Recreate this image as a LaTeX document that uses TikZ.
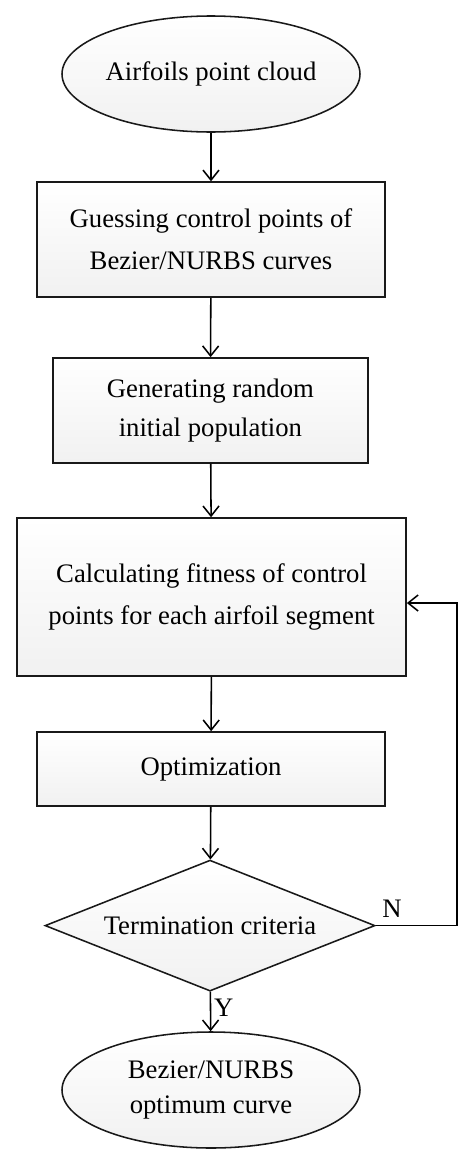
\documentclass[tikz,border=0pt]{standalone}
\usepackage{fontspec}
\setmainfont{Liberation Serif}
\usetikzlibrary{shapes.geometric,arrows.meta}

\tikzset{
  fillgrad/.style={top color=white, bottom color=gray!11, draw=black!90, line width=1.1pt},
  term/.style={ellipse, fillgrad, minimum width=7.45cm, minimum height=2.9cm, inner sep=0pt, align=center},
  proc/.style={rectangle, fillgrad, inner sep=0pt, align=center},
  dec/.style={diamond, aspect=2.5, fillgrad, minimum width=8.25cm, minimum height=3.275cm, inner sep=0pt, align=center},
  arr/.style={line width=1.1pt, -{Straight Barb[length=2.5mm,width=4mm]}}
}

\begin{document}
\begin{tikzpicture}[font=\fontsize{19}{30}\selectfont]
    \useasboundingbox (0,0) rectangle (11.85,-29.15);

    % Steps
    \node[term] (cloud) at (5.275,-1.85) {Airfoils point cloud};
    \node[proc, minimum width=8.7cm, minimum height=2.875cm] (guess) at (5.275,-5.99)
        {Guessing control points of\\Bezier/NURBS curves};
    \node[proc, minimum width=7.875cm, minimum height=2.625cm, font=\fontsize{19}{28}\selectfont] (pop) at (5.26,-10.26)
        {Generating random\\initial population};
    \node[proc, minimum width=9.725cm, minimum height=3.95cm] (fit) at (5.29,-14.925)
        {Calculating fitness of control\\points for each airfoil segment};
    \node[proc, minimum width=8.7cm, minimum height=1.85cm] (opt) at (5.275,-19.225)
        {Optimization};
    \node[dec] (crit) at (5.25,-23.14) {Termination criteria};
    \node[term, font=\fontsize{19}{25}\selectfont] (best) at (5.275,-27.25) {Bezier/NURBS\\optimum curve};

    % Flow
    \draw[arr] (cloud) -- (guess);
    \draw[arr] (guess) -- (pop);
    \draw[arr] (pop) -- (fit);
    \draw[arr] (fit) -- (opt);
    \draw[arr] (opt) -- (crit);
    \draw[arr] (crit) -- node[right, pos=0.4, inner sep=2pt] {Y} (best);

    % Loop back
    \coordinate (back) at (11.425,-15.075);
    \draw[arr] (crit.east) -- node[above, pos=0.2, yshift=2pt] {N} (crit.east -| back) -- (back) -- (back -| fit.east);
\end{tikzpicture}
\end{document}
